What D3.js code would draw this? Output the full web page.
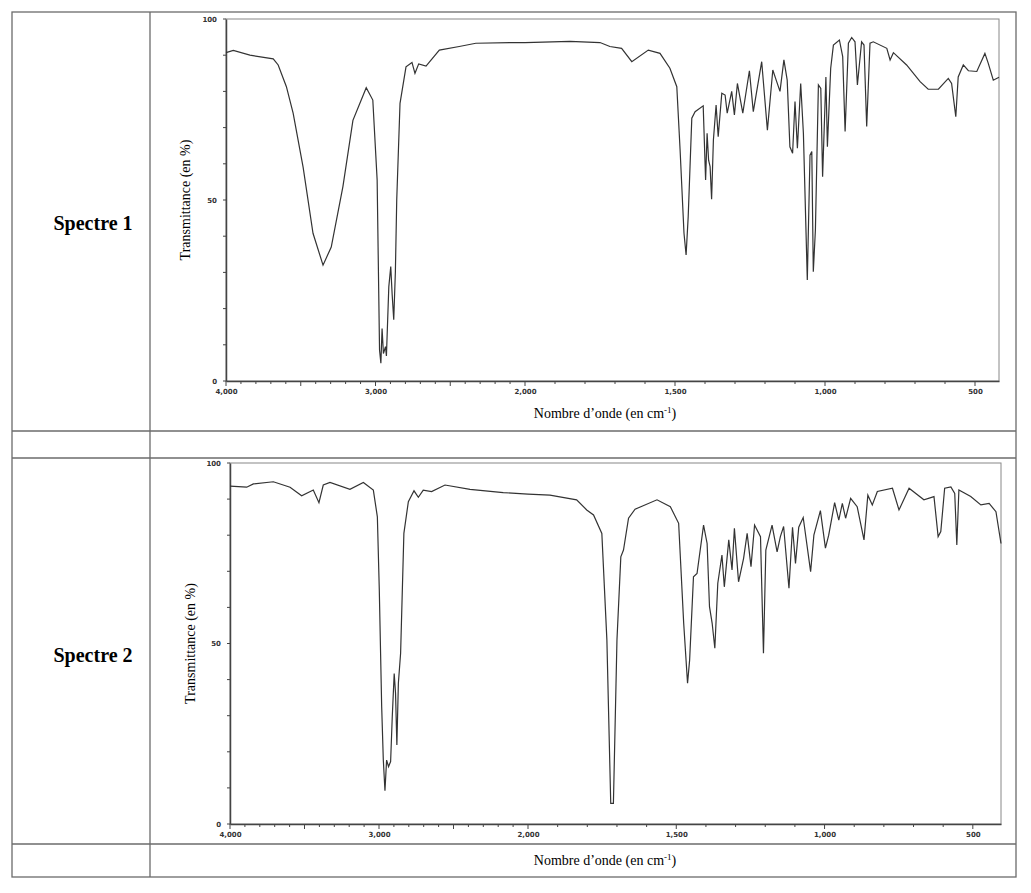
<!DOCTYPE html>
<html><head><meta charset="utf-8">
<script src="https://cdn.jsdelivr.net/npm/d3@7"></script>
<style>body{margin:0;background:#fff}</style></head>
<body><svg id="c" width="1031" height="893"></svg>
<script>
const xTicks=[4000,3000,2000,1500,1000,500];
const yTicks=[0,50,100];
const spectrumTitles=["Spectre 1","Spectre 2"];
const s1wn=[4000,3951,3840,3684,3651,3596,3551,3484,3418,3351,3296,3218,3151,3062,3018,2989,2973,2964,2956,2947,2933,2927,2911,2898,2889,2878,2867,2858,2836,2796,2756,2736,2711,2662,2573,2440,2329,2062,2000,1850,1750,1717,1678,1644,1589,1550,1517,1494,1483,1470,1463,1456,1444,1433,1406,1398,1393,1388,1383,1378,1372,1363,1356,1344,1333,1326,1311,1302,1292,1274,1252,1239,1211,1192,1174,1161,1150,1137,1126,1117,1108,1100,1092,1081,1072,1059,1050,1044,1039,1032,1022,1014,1008,997,992,981,972,952,941,933,922,911,900,892,878,870,861,850,839,794,783,772,728,683,656,622,589,578,564,556,539,522,494,467,456,439,420];
const s1T=[90.7,91.3,90,89,87.3,81.3,74,59,40.8,32,37,53.7,72,81,77.6,55.5,8.6,4.9,14.5,7.6,9.5,6.9,26,31.6,24.2,16.9,30.2,50,76.7,86.8,88,85,87.6,87,91.4,92.4,93.3,93.5,93.5,93.8,93.5,92.4,91.9,88.2,91.4,90.5,86.4,81.3,63.8,40.8,34.8,45.4,72.6,74.4,76,55.5,68.4,61,59.2,50.2,66.6,76.2,67.5,79.5,79,74,80,73.5,82.2,74,85.7,74.4,88.2,69.3,85.9,82.7,80,88.7,83.1,64.7,62.9,77.2,64.3,82.2,68.4,27.9,62.4,63.4,30.2,41.7,81.8,80.8,56.4,84,64.7,86.4,92.8,94.2,89.6,68.9,93.3,94.9,93.7,81.8,93.7,92.8,70.3,93.3,93.7,91.9,88.7,90.7,87.3,82.7,80.6,80.6,83.6,82.2,73,84,87.3,85.7,85.5,90.5,87.8,83.1,83.9];
const s2wn=[4000,3888,3843,3709,3597,3519,3441,3403,3374,3329,3195,3105,3038,3011,2998,2982,2971,2960,2949,2936,2922,2911,2898,2889,2880,2870,2855,2833,2803,2765,2736,2703,2647,2557,2389,2166,2000,1926,1836,1802,1779,1751,1734,1721,1712,1700,1687,1678,1661,1639,1565,1520,1492,1475,1462,1455,1442,1430,1408,1396,1388,1379,1370,1360,1346,1338,1323,1312,1304,1290,1273,1261,1248,1236,1216,1206,1198,1177,1160,1149,1138,1120,1108,1098,1087,1072,1047,1036,1014,997,986,966,952,940,929,912,890,867,854,839,822,771,749,715,665,631,617,608,595,574,561,554,547,507,473,445,422,405];
const s2T=[93.6,93.3,94.2,94.8,93.3,90.9,92.5,89,93.9,94.6,92.7,94.6,92.5,85.1,64.8,32.5,17.7,9.2,17.7,15.9,17.3,29.7,41.7,36.2,21.9,39,47.3,80.5,89.3,92.3,90.5,92.5,92.1,93.9,92.7,91.8,91.4,91.1,89.8,87,85.6,80.5,51,5.7,5.7,51,74,75.9,84.7,87.2,89.8,87.9,83.3,55.6,39,45.4,68.5,69.4,82.8,77.7,60.2,55.6,48.7,66.7,74.5,65.7,78.7,70.4,81.9,67.1,73.6,80.5,71.3,82.8,79.6,47.3,75.9,82.8,75.4,79.6,82.4,65.3,82.2,72.2,82.2,84.9,69.9,80,86.8,76.4,80,89,84.2,88.8,84.7,90.2,87.9,78.7,91.1,88.4,92.1,93,87,93,89.8,90.7,79.6,81,93,93.4,91.6,77.3,92.5,90.7,88.4,88.8,86.5,77.7];

const svg=d3.select("#c");
const B="#6b6b6b";
// table
const tl=12,tr=1016,colX=150;
const rows=[12,431,458,844,877];
svg.append("rect").attr("x",tl).attr("y",rows[0]).attr("width",tr-tl).attr("height",rows[4]-rows[0]).attr("fill","none").attr("stroke",B).attr("stroke-width",1.3);
[1,2,3].forEach(i=>svg.append("line").attr("x1",tl).attr("x2",tr).attr("y1",rows[i]).attr("y2",rows[i]).attr("stroke",B).attr("stroke-width",1.3));
svg.append("line").attr("x1",colX).attr("x2",colX).attr("y1",rows[0]).attr("y2",rows[4]).attr("stroke",B).attr("stroke-width",1.3);

const panels=[
 {wn:s1wn,T:s1T,x0:226,x2k:525,x1:999,endWn:420,yTop:19,yBot:381,title:spectrumTitles[0],ty:230,ylx:190,xly:418},
 {wn:s2wn,T:s2T,x0:230,x2k:528,x1:1001,endWn:405,yTop:463,yBot:824,title:spectrumTitles[1],ty:662,ylx:195,xly:865}
];
panels.forEach(p=>{
  const x=d3.scaleLinear().domain([4000,2000,p.endWn]).range([p.x0,p.x2k,p.x1]);
  const y=d3.scaleLinear().domain([0,100]).range([p.yBot,p.yTop]);
  const g=svg.append("g");
  // frame
  g.append("rect").attr("x",p.x0).attr("y",p.yTop).attr("width",p.x1-p.x0).attr("height",p.yBot-p.yTop).attr("fill","none").attr("stroke","#888").attr("stroke-width",1);
  // x axis minor ticks
  const minor=d3.range(4000,p.endWn-1,-100);
  g.selectAll(".mx").data(minor).join("line").attr("x1",d=>x(d)).attr("x2",d=>x(d)).attr("y1",p.yBot).attr("y2",d=>p.yBot+(d%500===0?5:3)).attr("stroke","#444");
  const ax=d3.axisBottom(x).tickValues(xTicks).tickSize(0).tickPadding(8);
  const gx=g.append("g").attr("transform",`translate(0,${p.yBot})`).call(ax);
  gx.select(".domain").attr("stroke","#444").attr("stroke-width",1.5);
  gx.selectAll("text").attr("font-family","DejaVu Sans").attr("font-size",7).attr("font-weight","bold").attr("fill","#333");
  const ay=d3.axisLeft(y).tickValues(yTicks).tickSize(0).tickPadding(9);
  const gy=g.append("g").attr("transform",`translate(${p.x0},0)`).call(ay);
  gy.select(".domain").attr("stroke","#444").attr("stroke-width",1.5);
  gy.selectAll("text").attr("font-family","DejaVu Sans").attr("font-size",7).attr("font-weight","bold").attr("fill","#333");
  g.selectAll(".my").data(d3.range(0,101,10)).join("line").attr("x1",p.x0-3).attr("x2",p.x0).attr("y1",d=>y(d)).attr("y2",d=>y(d)).attr("stroke","#444");
  // curve
  const pts=p.wn.map((w,i)=>[w,p.T[i]]);
  g.append("path").datum(pts).attr("fill","none").attr("stroke","#333").attr("stroke-width",1.2)
   .attr("d",d3.line().x(d=>x(d[0])).y(d=>y(d[1])));
  // labels
  svg.append("text").attr("x",93).attr("y",p.ty).attr("text-anchor","middle").attr("font-family","Liberation Serif").attr("font-weight","bold").attr("font-size",20).text(p.title);
  svg.append("text").attr("transform",`translate(${p.ylx},${(p.yTop+p.yBot)/2}) rotate(-90)`).attr("text-anchor","middle").attr("font-family","Liberation Serif").attr("font-size",14).text("Transmittance (en %)");
  const xl=svg.append("text").attr("x",605).attr("y",p.xly).attr("text-anchor","middle").attr("font-family","Liberation Serif").attr("font-size",14).text("Nombre d\u2019onde (en cm");
  xl.append("tspan").attr("dy",-5).attr("font-size",9).text("-1");
  xl.append("tspan").attr("dy",5).text(")");
});
</script></body></html>
